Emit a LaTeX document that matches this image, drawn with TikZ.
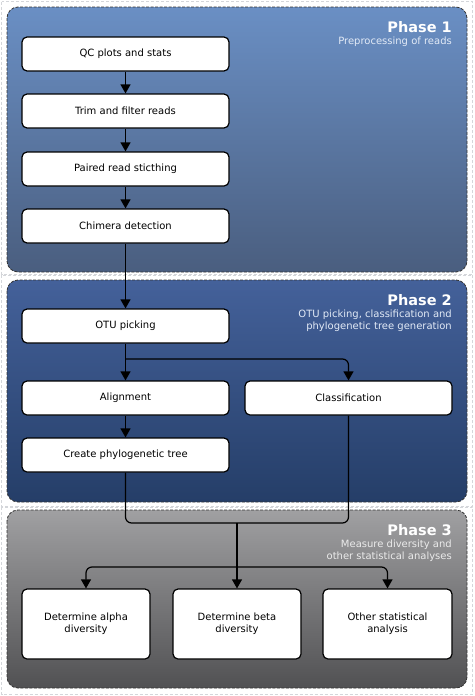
\documentclass[tikz,border=0pt]{standalone}
\usepackage{fontspec}
\setmainfont{DejaVu Sans}
\usetikzlibrary{arrows.meta}
\definecolor{pOneTop}{HTML}{6A8FC4}
\definecolor{pOneBot}{HTML}{4A5E7F}
\definecolor{pTwoTop}{HTML}{44619A}
\definecolor{pTwoBot}{HTML}{253E68}
\definecolor{pThreeTop}{HTML}{A0A0A2}
\definecolor{pThreeBot}{HTML}{515153}
\definecolor{frameGray}{HTML}{D4D6DA}
\definecolor{subBlue}{HTML}{E2EAF6}
\tikzset{
  stepbox/.style={draw=black, line width=1.2pt, fill=white, rounded corners=5pt,
    minimum height=34pt, inner sep=2pt, font=\fontsize{10}{12}\selectfont, align=center},
  widebox/.style={stepbox, minimum width=207pt},
  bigbox/.style={stepbox, minimum height=70pt},
  flow/.style={line width=1.2pt, draw=black, -{Triangle[width=10pt,length=9pt]}},
  flowline/.style={line width=1.2pt, draw=black},
  outerframe/.style={draw=frameGray, dashed, dash pattern=on 3pt off 2pt, line width=0.6pt},
  phasebox/.style={draw=black!80, dash pattern=on 3pt off 1.5pt, line width=0.8pt, rounded corners=11pt},
  phasetitle/.style={anchor=base east, inner sep=0pt, text=white, font=\fontsize{14.5}{16}\selectfont\bfseries},
  phasesub/.style={anchor=base east, inner sep=0pt, font=\fontsize{10}{12}\selectfont},
}
\begin{document}
\begin{tikzpicture}[x=1pt,y=-1pt]
\useasboundingbox (0,0) rectangle (474,696);
\fill[white] (0,0) rectangle (474,696);
% outer frames
\draw[outerframe] (1.5,1.5) rectangle (472.5,274);
\draw[outerframe] (1.5,275) rectangle (472.5,506);
\draw[outerframe] (1.5,507) rectangle (472.5,694);
% phase boxes
\shade[top color=pOneTop, bottom color=pOneBot, rounded corners=11pt] (7,7) rectangle (467,272);
\draw[phasebox] (7,7) rectangle (467,272);
\shade[top color=pTwoTop, bottom color=pTwoBot, rounded corners=11pt] (7,280) rectangle (467,502);
\draw[phasebox] (7,280) rectangle (467,502);
\shade[top color=pThreeTop, bottom color=pThreeBot, rounded corners=11pt] (7,510) rectangle (467,688);
\draw[phasebox] (7,510) rectangle (467,688);
% phase labels
\node[phasetitle] (t1) at (452,32) {Phase 1};
\node[phasesub, text=subBlue] (s1) at (452,44) {Preprocessing of reads};
\node[phasetitle] (t2) at (452,305) {Phase 2};
\node[phasesub, text=subBlue] (s2a) at (452,317) {OTU picking, classification and};
\node[phasesub, text=subBlue] (s2b) at (452,329) {phylogenetic tree generation};
\node[phasetitle] (t3) at (452,535) {Phase 3};
\node[phasesub, text=white!92!black] (s3a) at (452,547) {Measure diversity and};
\node[phasesub, text=white!92!black] (s3b) at (452,559) {other statistical analyses};
% nodes
\node[widebox] (qc) at (125.5,54) {QC plots and stats};
\node[widebox] (trim) at (125.5,111) {Trim and filter reads};
\node[widebox] (pair) at (125.5,169) {Paired read sticthing};
\node[widebox] (chim) at (125.5,226) {Chimera detection};
\node[widebox] (otu) at (125.5,326) {OTU picking};
\node[widebox] (aln) at (125.5,398) {Alignment};
\node[widebox] (tree) at (125.5,455) {Create phylogenetic tree};
\node[widebox] (cls) at (348.5,398) {Classification};
\node[bigbox, minimum width=128pt] (alpha) at (86,624) {Determine alpha\\diversity};
\node[bigbox, minimum width=128pt] (beta) at (237,624) {Determine beta\\diversity};
\node[bigbox, minimum width=129pt] (other) at (387.5,624) {Other statistical\\analysis};
% connectors
\draw[flow] (qc) -- (trim);
\draw[flow] (trim) -- (pair);
\draw[flow] (pair) -- (chim);
\draw[flow] (chim) -- (otu);
\draw[flow] (otu) -- (aln);
\coordinate (b1) at (125.5,359);
\draw[flow, rounded corners=6pt] (b1) -| (cls.north);
\draw[flow] (aln) -- (tree);
\coordinate (j) at (237,523);
\draw[flowline, rounded corners=6pt] (tree.south) |- (j) -| (cls.south);
\draw[flow] (j) -- (beta.north);
\coordinate (b2) at (237,567);
\draw[flow, rounded corners=6pt] (b2) -| (alpha.north);
\draw[flow, rounded corners=6pt] (b2) -| (other.north);
\end{tikzpicture}
\end{document}
